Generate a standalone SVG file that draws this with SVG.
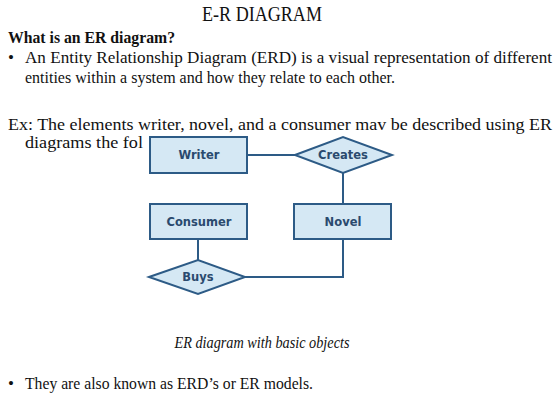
<svg xmlns="http://www.w3.org/2000/svg" width="560" height="420" viewBox="0 0 560 420">
<style>
.t{font-family:"Liberation Serif","DejaVu Serif",serif;fill:#111;}
.body{font-size:17px;}
.ent{fill:#d5e8f4;stroke:#2d5b86;stroke-width:2;}
.lbl{font-family:"DejaVu Sans","Liberation Sans",sans-serif;font-weight:bold;font-size:11.5px;fill:#2a4a6e;text-anchor:middle;}
.con{fill:none;stroke:#2d5b86;stroke-width:2;}
</style>
<rect width="560" height="420" fill="#fff"/>
<text class="t" x="262" y="21" font-size="20" text-anchor="middle" textLength="120" lengthAdjust="spacingAndGlyphs">E-R DIAGRAM</text>
<text class="t" x="8" y="43" font-size="17.5" font-weight="bold" textLength="167" lengthAdjust="spacingAndGlyphs">What is an ER diagram?</text>
<text class="t body" x="8" y="63">•</text>
<text class="t body" x="25" y="63" textLength="527" lengthAdjust="spacingAndGlyphs">An Entity Relationship Diagram (ERD) is a visual representation of different</text>
<text class="t body" x="25" y="83" textLength="370" lengthAdjust="spacingAndGlyphs">entities within a system and how they relate to each other.</text>
<text class="t body" x="8" y="130" textLength="544" lengthAdjust="spacingAndGlyphs">Ex:  The elements writer, novel, and a consumer mav be described using ER</text>
<text class="t body" x="25" y="148" textLength="118" lengthAdjust="spacingAndGlyphs">diagrams the fol</text>
<g id="connectors">
<path class="con" d="M247,155 H295"/>
<path class="con" d="M343,173 V204"/>
<path class="con" d="M198,239 V260"/>
<path class="con" d="M245,277 H343 V239"/>
</g>
<g id="writer">
<rect class="ent" x="150" y="137" width="97" height="36"/>
<text class="lbl" x="199" y="159">Writer</text>
</g>
<g id="creates">
<polygon class="ent" points="295,155 343,137 392,155 343,173"/>
<text class="lbl" x="343" y="159">Creates</text>
</g>
<g id="consumer">
<rect class="ent" x="150" y="204" width="97" height="35"/>
<text class="lbl" x="199" y="226">Consumer</text>
</g>
<g id="novel">
<rect class="ent" x="294" y="204" width="97" height="35"/>
<text class="lbl" x="343" y="226">Novel</text>
</g>
<g id="buys">
<polygon class="ent" points="149,277 198,260 245,277 198,294"/>
<text class="lbl" x="198" y="281">Buys</text>
</g>
<text class="t" x="262" y="348" font-size="16" font-style="italic" text-anchor="middle" textLength="175" lengthAdjust="spacingAndGlyphs">ER diagram with basic objects</text>
<text class="t body" x="8" y="389">•</text>
<text class="t body" x="25" y="389" textLength="288" lengthAdjust="spacingAndGlyphs">They are also known as ERD’s or ER models.</text>
</svg>
